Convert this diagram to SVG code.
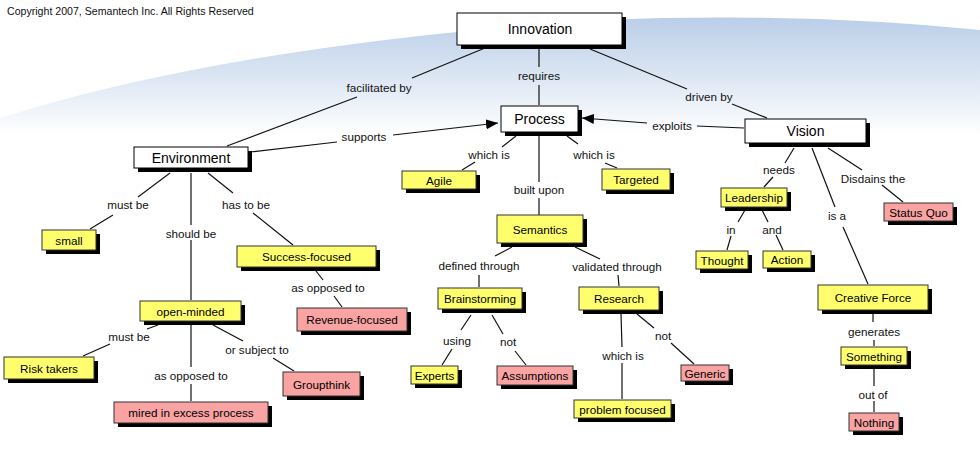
<svg xmlns="http://www.w3.org/2000/svg" width="980" height="457" viewBox="0 0 980 457">
<style>
.bg{fill:url(#sky)}
.sh{fill:#000}
.w{fill:#fff;stroke:#000;stroke-width:1}
.y{fill:#ffff6e;stroke:#333;stroke-width:1}
.p{fill:#f9a3a3;stroke:#333;stroke-width:1}
.t{font-family:"Liberation Sans",Arial,sans-serif;fill:#000;text-anchor:middle;dominant-baseline:central}
.big{font-size:14px}
.sm{font-size:11.7px}
.c line{stroke:#111;stroke-width:1.2;fill:none}
.lt{font-family:"Liberation Sans",Arial,sans-serif;font-size:11.7px;fill:#111;text-anchor:middle;dominant-baseline:central}
.cp{font-family:"Liberation Sans",Arial,sans-serif;font-size:10.6px;fill:#111}
</style>
<defs>
<linearGradient id="sky" gradientUnits="userSpaceOnUse" x1="0" y1="20" x2="0" y2="135">
<stop offset="0" stop-color="#bccfe9"/>
<stop offset="0.45" stop-color="#d9e4f2"/>
<stop offset="1" stop-color="#ffffff"/>
</linearGradient>
<marker id="ah" markerUnits="userSpaceOnUse" viewBox="0 0 12 10" markerWidth="12" markerHeight="10" refX="12" refY="5" orient="auto">
<path d="M0,0 L12,5 L0,10 z" fill="#000"/>
</marker>
</defs>
<rect width="980" height="457" fill="#fff"/>
<path class="bg" d="M0,118 Q230,45 600,20 Q800,12 980,30 L980,160 L0,160 Z"/>
<text class="cp" x="7" y="15">Copyright 2007, Semantech Inc. All Rights Reserved</text>

<g id="connectors" class="c">
<line x1="485" y1="48" x2="412" y2="78"/><line x1="357" y1="97" x2="227" y2="146"/>
<line x1="539" y1="46" x2="539" y2="67"/><line x1="539" y1="85" x2="539" y2="105"/>
<line x1="590" y1="49" x2="687" y2="89"/><line x1="732" y1="104" x2="767" y2="118"/>
<line x1="250" y1="152" x2="337" y2="142"/><line x1="393" y1="135" x2="498" y2="123" marker-end="url(#ah)"/>
<line x1="647" y1="123" x2="582" y2="118" marker-end="url(#ah)"/><line x1="697" y1="126" x2="744" y2="128"/>
<line x1="516" y1="136" x2="502" y2="147"/><line x1="475" y1="162" x2="462" y2="170"/>
<line x1="567" y1="136" x2="578" y2="144"/><line x1="605" y1="163" x2="617" y2="168"/>
<line x1="539" y1="132" x2="539" y2="182"/><line x1="539" y1="198" x2="539" y2="215"/>
<line x1="170" y1="173" x2="138" y2="197"/><line x1="113" y1="215" x2="90" y2="229"/>
<line x1="191" y1="173" x2="191" y2="225"/><line x1="191" y1="240" x2="191" y2="300"/>
<line x1="208" y1="173" x2="233" y2="193"/><line x1="253" y1="213" x2="293" y2="245"/>
<line x1="316" y1="271" x2="323" y2="280"/><line x1="334" y1="296" x2="342" y2="307"/>
<line x1="158" y1="325" x2="147" y2="329"/><line x1="110" y1="344" x2="83" y2="356"/>
<line x1="191" y1="325" x2="191" y2="367"/><line x1="191" y1="384" x2="191" y2="401"/>
<line x1="213" y1="325" x2="243" y2="341"/><line x1="273" y1="358" x2="294" y2="371"/>
<line x1="512" y1="247" x2="495" y2="256"/><line x1="479" y1="275" x2="479" y2="287"/>
<line x1="575" y1="247" x2="600" y2="259"/><line x1="618" y1="275" x2="619" y2="286"/>
<line x1="471" y1="315" x2="461" y2="330"/><line x1="452" y1="349" x2="442" y2="365"/>
<line x1="492" y1="315" x2="503" y2="334"/><line x1="515" y1="351" x2="526" y2="365"/>
<line x1="621" y1="314" x2="622" y2="347"/><line x1="622" y1="363" x2="622" y2="399"/>
<line x1="637" y1="314" x2="654" y2="328"/><line x1="671" y1="343" x2="694" y2="364"/>
<line x1="794" y1="148" x2="785" y2="163"/><line x1="773" y1="177" x2="764" y2="187"/>
<line x1="812" y1="148" x2="835" y2="207"/><line x1="843" y1="227" x2="868" y2="284"/>
<line x1="828" y1="148" x2="862" y2="170"/><line x1="882" y1="185" x2="903" y2="202"/>
<line x1="745" y1="210" x2="738" y2="222"/><line x1="731" y1="236" x2="727" y2="250"/>
<line x1="762" y1="210" x2="768" y2="222"/><line x1="776" y1="235" x2="783" y2="250"/>
<line x1="873" y1="314" x2="873" y2="322"/><line x1="874" y1="340" x2="874" y2="346"/>
<line x1="874" y1="369" x2="874" y2="386"/><line x1="874" y1="401" x2="874" y2="412"/>
</g>

<g id="link-labels">
<text class="lt" x="379" y="87">facilitated by</text>
<text class="lt" x="539" y="75">requires</text>
<text class="lt" x="709" y="96">driven by</text>
<text class="lt" x="364" y="136">supports</text>
<text class="lt" x="672" y="125">exploits</text>
<text class="lt" x="489" y="154">which is</text>
<text class="lt" x="594" y="154">which is</text>
<text class="lt" x="539" y="189">built upon</text>
<text class="lt" x="128" y="204">must be</text>
<text class="lt" x="191" y="233">should be</text>
<text class="lt" x="246" y="204">has to be</text>
<text class="lt" x="479" y="265">defined through</text>
<text class="lt" x="617" y="266">validated through</text>
<text class="lt" x="779" y="169">needs</text>
<text class="lt" x="837" y="215">is a</text>
<text class="lt" x="873" y="178">Disdains the</text>
<text class="lt" x="731" y="229">in</text>
<text class="lt" x="772" y="229">and</text>
<text class="lt" x="328" y="287">as opposed to</text>
<text class="lt" x="129" y="336">must be</text>
<text class="lt" x="191" y="375">as opposed to</text>
<text class="lt" x="257" y="349">or subject to</text>
<text class="lt" x="457" y="340">using</text>
<text class="lt" x="508" y="341">not</text>
<text class="lt" x="623" y="355">which is</text>
<text class="lt" x="663" y="335">not</text>
<text class="lt" x="874" y="331">generates</text>
<text class="lt" x="873" y="394">out of</text>
</g>

<g id="n-innovation"><rect class="sh" x="461" y="17" width="165" height="32"/><rect class="w" x="457" y="13" width="165" height="32"/><text class="t big" x="540" y="29">Innovation</text></g>
<g id="n-process"><rect class="sh" x="505" y="110" width="77" height="26"/><rect class="w" x="501" y="106" width="77" height="26"/><text class="t big" x="539.5" y="119">Process</text></g>
<g id="n-environment"><rect class="sh" x="138" y="151" width="114" height="21"/><rect class="w" x="134" y="147" width="114" height="21"/><text class="t big" x="191" y="157.5">Environment</text></g>
<g id="n-vision"><rect class="sh" x="749" y="123" width="121" height="24"/><rect class="w" x="745" y="119" width="121" height="24"/><text class="t big" x="805.5" y="131">Vision</text></g>

<g id="n-agile"><rect class="sh" x="406" y="175" width="74" height="18"/><rect class="y" x="402" y="171" width="74" height="18"/><text class="t sm" x="439" y="180">Agile</text></g>
<g id="n-targeted"><rect class="sh" x="606" y="173" width="68" height="21"/><rect class="y" x="602" y="169" width="68" height="21"/><text class="t sm" x="636" y="179.5">Targeted</text></g>
<g id="n-semantics"><rect class="sh" x="501" y="219" width="86" height="28"/><rect class="y" x="497" y="215" width="86" height="28"/><text class="t sm" x="540" y="229">Semantics</text></g>
<g id="n-small"><rect class="sh" x="46" y="234" width="54" height="20"/><rect class="y" x="42" y="230" width="54" height="20"/><text class="t sm" x="69" y="240">small</text></g>
<g id="n-success"><rect class="sh" x="241" y="250" width="139" height="21"/><rect class="y" x="237" y="246" width="139" height="21"/><text class="t sm" x="306.5" y="256.5">Success-focused</text></g>
<g id="n-openminded"><rect class="sh" x="144" y="305" width="101" height="20"/><rect class="y" x="140" y="301" width="101" height="20"/><text class="t sm" x="190.5" y="311">open-minded</text></g>
<g id="n-risktakers"><rect class="sh" x="8" y="361" width="90" height="22"/><rect class="y" x="4" y="357" width="90" height="22"/><text class="t sm" x="49" y="368">Risk takers</text></g>
<g id="n-brainstorming"><rect class="sh" x="442" y="292" width="84" height="21"/><rect class="y" x="438" y="288" width="84" height="21"/><text class="t sm" x="480" y="298.5">Brainstorming</text></g>
<g id="n-research"><rect class="sh" x="583" y="291" width="80" height="23"/><rect class="y" x="579" y="287" width="80" height="23"/><text class="t sm" x="619" y="298.5">Research</text></g>
<g id="n-experts"><rect class="sh" x="415" y="370" width="47" height="18"/><rect class="y" x="411" y="366" width="47" height="18"/><text class="t sm" x="434.5" y="375">Experts</text></g>
<g id="n-problemfocused"><rect class="sh" x="578" y="404" width="97" height="18"/><rect class="y" x="574" y="400" width="97" height="18"/><text class="t sm" x="622.5" y="409">problem focused</text></g>
<g id="n-leadership"><rect class="sh" x="725" y="192" width="66" height="19"/><rect class="y" x="721" y="188" width="66" height="19"/><text class="t sm" x="754" y="197.5">Leadership</text></g>
<g id="n-thought"><rect class="sh" x="700" y="255" width="52" height="18"/><rect class="y" x="696" y="251" width="52" height="18"/><text class="t sm" x="722" y="260">Thought</text></g>
<g id="n-action"><rect class="sh" x="767" y="255" width="48" height="17"/><rect class="y" x="763" y="251" width="48" height="17"/><text class="t sm" x="787" y="259.5">Action</text></g>
<g id="n-creativeforce"><rect class="sh" x="822" y="289" width="110" height="25"/><rect class="y" x="818" y="285" width="110" height="25"/><text class="t sm" x="873" y="297.5">Creative Force</text></g>
<g id="n-something"><rect class="sh" x="845" y="351" width="66" height="18"/><rect class="y" x="841" y="347" width="66" height="18"/><text class="t sm" x="874" y="356">Something</text></g>

<g id="n-revenue"><rect class="sh" x="301" y="312" width="110" height="23"/><rect class="p" x="297" y="308" width="110" height="23"/><text class="t sm" x="352" y="319.5">Revenue-focused</text></g>
<g id="n-mired"><rect class="sh" x="118" y="406" width="154" height="21"/><rect class="p" x="114" y="402" width="154" height="21"/><text class="t sm" x="191" y="412.5">mired in excess process</text></g>
<g id="n-groupthink"><rect class="sh" x="287" y="376" width="77" height="24"/><rect class="p" x="283" y="372" width="77" height="24"/><text class="t sm" x="321.5" y="384">Groupthink</text></g>
<g id="n-assumptions"><rect class="sh" x="501" y="370" width="76" height="19"/><rect class="p" x="497" y="366" width="76" height="19"/><text class="t sm" x="535" y="375.5">Assumptions</text></g>
<g id="n-generic"><rect class="sh" x="685" y="369" width="48" height="16"/><rect class="p" x="681" y="365" width="48" height="16"/><text class="t sm" x="705" y="373">Generic</text></g>
<g id="n-statusquo"><rect class="sh" x="888" y="207" width="69" height="18"/><rect class="p" x="884" y="203" width="69" height="18"/><text class="t sm" x="918.5" y="212">Status Quo</text></g>
<g id="n-nothing"><rect class="sh" x="853" y="417" width="50" height="18"/><rect class="p" x="849" y="413" width="50" height="18"/><text class="t sm" x="874" y="422">Nothing</text></g>
</svg>
